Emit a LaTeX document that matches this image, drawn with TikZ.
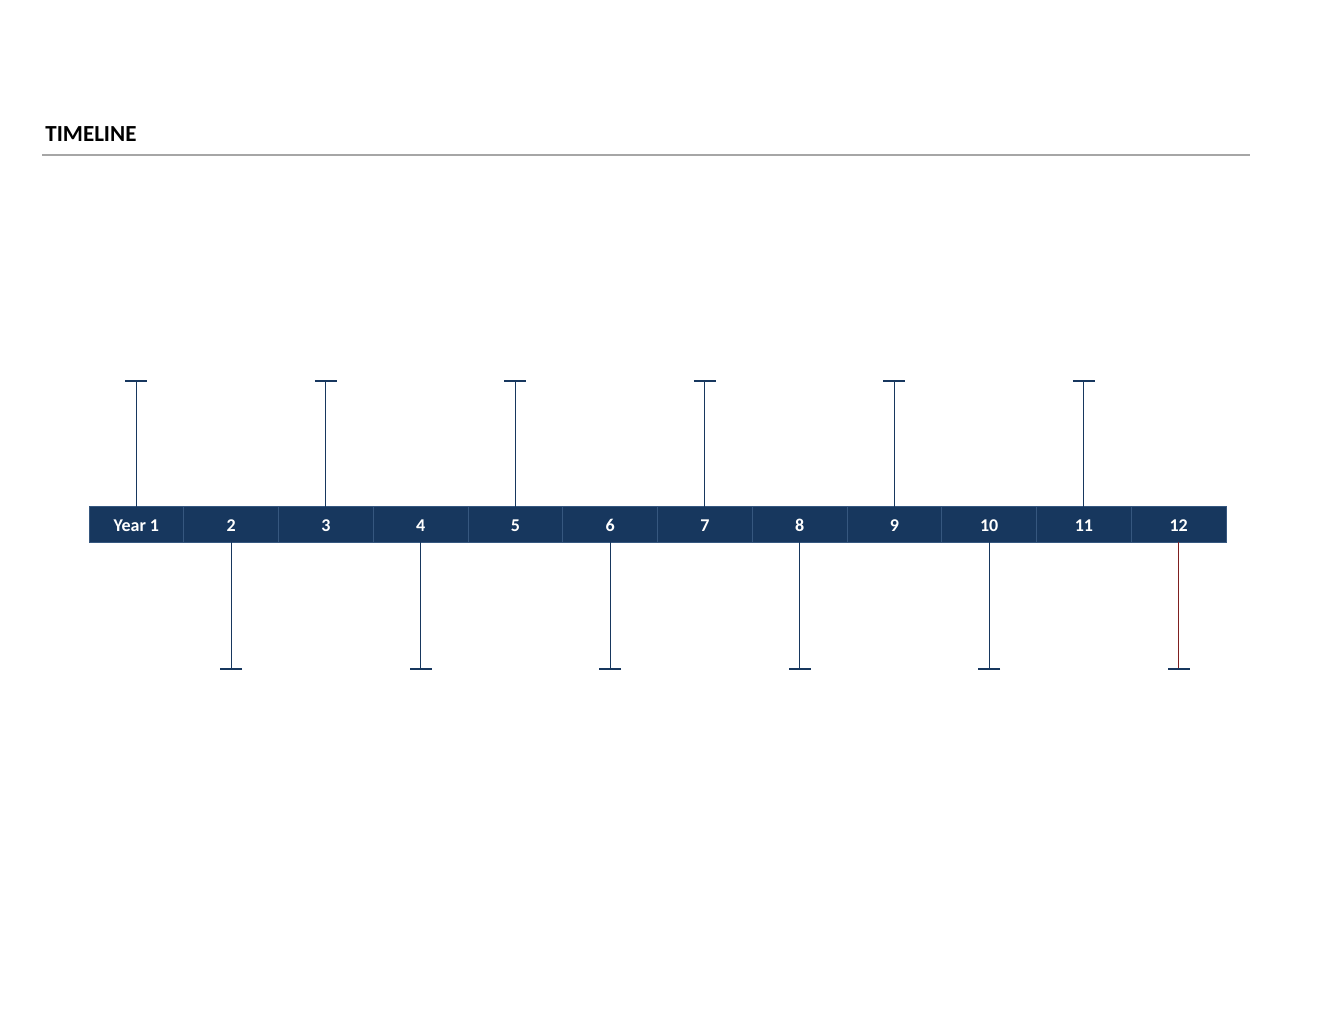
\documentclass[tikz,border=0pt]{standalone}
\usepackage{fontspec}
\setmainfont{Carlito}
\usetikzlibrary{positioning,arrows.meta}
\definecolor{navy}{HTML}{17375E}
\definecolor{navyedge}{HTML}{36577F}
\definecolor{rulegray}{HTML}{A6A6A6}
\definecolor{stemred}{HTML}{7F1F1F}
\tikzset{
  year/.style  = {rectangle, draw=navyedge, line width=0.5pt, fill=navy,
                  text=white, font=\bfseries\fontsize{9}{10}\selectfont,
                  minimum width=47.375pt, minimum height=17.5pt,
                  text height=6.5pt, text depth=0pt,
                  inner sep=0pt, outer sep=0pt},
  stem/.style  = {draw=navy, line width=0.6pt,
                  -{Bar[width=11pt, line width=0.8pt, color=navy]}},
  title/.style = {font=\bfseries\fontsize{11.5}{13}\selectfont,
                  anchor=base west, inner sep=0pt}
}

\begin{document}
\begin{tikzpicture}[x=0.5pt,y=-0.5pt]
\useasboundingbox[fill=white] (0,0) rectangle (1320,1020);

% heading and the grey rule under it
\node[title] (head) at (45,142) {TIMELINE};
\draw[rulegray, line width=1pt] (42,155) -- (1250,155);

% the bar, one box per year
\node[year] (y1) at (136.375,524.5) {Year 1};
\foreach \n [count=\p] in {2,...,12}
  \node[year, right=0pt of y\p] (y\n) {\n};

% stems above the bar for the odd years
\foreach \n in {1,3,...,11} {
  \coordinate[above=63.5pt of y\n.north] (t\n);
  \draw[stem] (y\n.north) -- (t\n);
}

% stems below the bar for the even years
\foreach \n in {2,4,...,12}
  \coordinate[below=64pt of y\n.south] (b\n);
\foreach \n in {2,4,...,10}
  \draw[stem] (y\n.south) -- (b\n);
\draw[stem, draw=stemred] (y12.south) -- (b12);
\end{tikzpicture}
\end{document}
